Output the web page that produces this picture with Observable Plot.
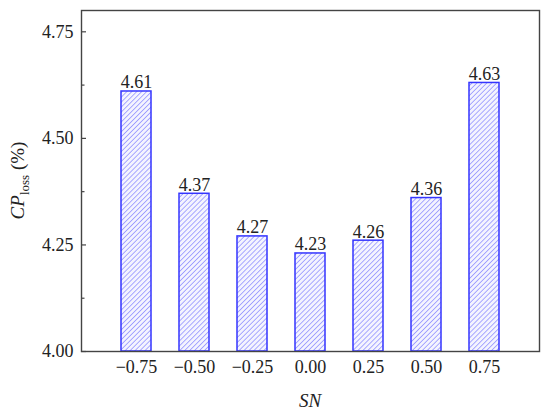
<!DOCTYPE html>
<html>
<head>
<meta charset="utf-8">
<script src="https://cdn.jsdelivr.net/npm/d3@7"></script>
<script src="https://cdn.jsdelivr.net/npm/@observablehq/plot@0.6"></script>
<style>
  body { margin: 0; background: #fff; }
  svg, svg text { font-family: "Liberation Serif", "Times New Roman", serif !important; }
</style>
</head>
<body>
<div id="chart"></div>
<script>
const snLabels = ["\u22120.75", "\u22120.50", "\u22120.25", "0.00", "0.25", "0.50", "0.75"];
const cpLoss = [4.61, 4.37, 4.27, 4.23, 4.26, 4.36, 4.63];
const yMajorTicks = [4.00, 4.25, 4.50, 4.75];
const yMinorTicks = [4.125, 4.375, 4.625];
const yDomain = [4.0, 4.8];

const data = snLabels.map((s, i) => ({sn: s, v: cpLoss[i]}));
const base = yDomain[0];
const fmt = d3.format(".2f");

const plot = Plot.plot({
  width: 550,
  height: 416,
  marginLeft: 81,
  marginRight: 11,
  marginTop: 10,
  marginBottom: 65,
  style: {fontFamily: "'Liberation Serif', serif", fontSize: "18px", background: "#fff", color: "#222"},
  x: {type: "band", domain: snLabels, paddingInner: 0.49, paddingOuter: 0.645, label: null},
  y: {domain: yDomain, label: null},
  marks: [
    Plot.barY(data, {x: "sn", y1: () => base, y2: "v", fill: "url(#hatch)", stroke: "#3535ff", strokeWidth: 1.5}),
    Plot.text(data, {x: "sn", y: "v", text: d => fmt(d.v), lineAnchor: "bottom", dy: -3, fontSize: 18, fill: "#222"}),
    Plot.axisX({tickSize: 0, tickPadding: 9, fontSize: 18, label: null}),
    Plot.axisY(yMajorTicks, {tickSize: 0, tickPadding: 8, tickFormat: fmt, fontSize: 18, label: null}),
    Plot.axisY(yMajorTicks, {tickSize: -5, text: null, label: null, stroke: "#444", strokeWidth: 1.2}),
    Plot.axisY(yMinorTicks, {tickSize: -3.5, text: null, label: null, stroke: "#444", strokeWidth: 1.2}),
    Plot.frame({stroke: "#444", strokeWidth: 1.4})
  ]
});

const svg = d3.select(plot);
const defs = svg.insert("defs", ":first-child");
const pat = defs.append("pattern")
  .attr("id", "hatch")
  .attr("patternUnits", "userSpaceOnUse")
  .attr("width", 3.5)
  .attr("height", 3.5)
  .attr("patternTransform", "rotate(45)");
pat.append("rect").attr("width", 3.5).attr("height", 3.5).attr("fill", "#f4f4ff");
pat.append("line").attr("x1", 0).attr("y1", 0).attr("x2", 0).attr("y2", 3.5)
  .attr("stroke", "#7f7fff").attr("stroke-width", 1.3);

// Y axis title with subscript
const yTitle = svg.append("text")
  .attr("transform", `translate(24,${(10 + 351) / 2}) rotate(-90)`)
  .attr("text-anchor", "middle")
  .attr("font-size", 19)
  .attr("fill", "#222");
yTitle.append("tspan").attr("font-style", "italic").text("CP");
yTitle.append("tspan").attr("font-size", 13).attr("dy", 5).text("loss");
yTitle.append("tspan").attr("dy", -5).text(" (%)");

// X axis title
svg.append("text")
  .attr("x", (81 + 539) / 2)
  .attr("y", 407)
  .attr("text-anchor", "middle")
  .attr("font-size", 19)
  .attr("font-style", "italic")
  .attr("fill", "#222")
  .text("SN");

document.getElementById("chart").appendChild(plot);
</script>
</body>
</html>
